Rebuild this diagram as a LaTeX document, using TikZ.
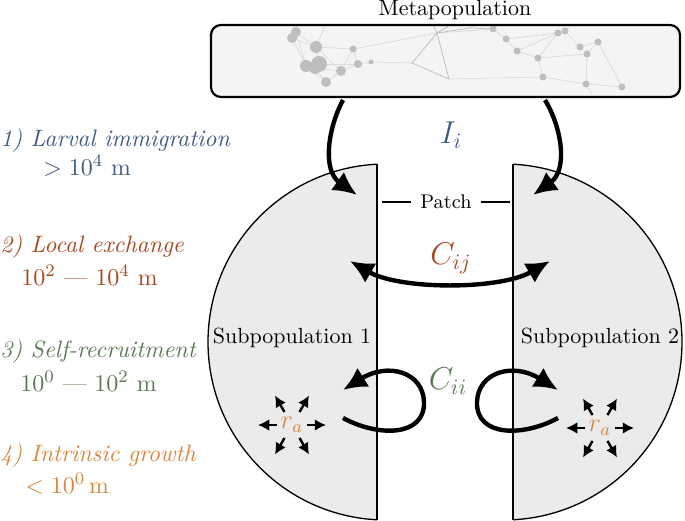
\documentclass[tikz,border=0pt]{standalone}
\usepackage{amsmath}
\usetikzlibrary{arrows.meta}

\definecolor{immblue}{HTML}{3E5B85}
\definecolor{exchrust}{HTML}{A8471C}
\definecolor{selfgreen}{HTML}{5A7852}
\definecolor{groworange}{HTML}{D9873A}
\definecolor{diskgray}{HTML}{EBEBEB}
\definecolor{boxgray}{HTML}{F4F4F4}
\definecolor{dotgray}{HTML}{BEBEBE}

\tikzset{
  bigarrow/.style={line width=2pt, -{Latex[length=0.38cm,width=0.36cm]}},
  smallarrow/.style={line width=1.1pt, -{Latex[length=1.8mm,width=1.9mm]}},
  disk/.style={draw, fill=diskgray, line width=0.6pt},
  netedge/.style={gray!30, line width=0.3pt},
  netnode/.style={fill=dotgray},
  scalelabel/.style={anchor=west, inner sep=0pt, font=\fontsize{10.8}{13}\selectfont},
}

\begin{document}
\begin{tikzpicture}[x=0.016cm, y=-0.016cm]
          \useasboundingbox (0,0) rectangle (685,521);

          % subpopulations
          \begin{scope}
            \clip (150,100) rectangle (377,560);
            \draw[disk] (386,342) circle (178);
          \end{scope}
          \begin{scope}
            \clip (513,100) rectangle (720,560);
            \draw[disk] (504,342) circle (178);
          \end{scope}
          \draw[line width=0.6pt] (377,164.2) -- (377,519.8);
          \draw[line width=0.6pt] (513,164.2) -- (513,519.8);

          % metapopulation box
          \node (meta) at (455,10) {Metapopulation};
          \fill[boxgray, rounded corners=0.16cm] (211,25) rectangle (680,97);
          \begin{scope}
            \clip[rounded corners=0.16cm] (211,25) rectangle (680,97);
            \foreach \n/\x/\y in {la/296/32, lb/292/38, lc/316/47, ld/353/49, le/306/66,
                lf/319/64, lg/315/68, lh/341/71, li/358/64, lj/371/62, lk/326/82,
                ha/437/33, hb/412/63, hc/449/79, hd/430/18, he/465/16, hf/470/28,
                ra/493/29, rb/506/39, rc/517/51, rd/538/58, re/543/77, rf/558/33,
                rg/565/31, rh/580/47, ri/598/42, rj/587/54, rk/586/84, rl/622/87,
                oa/330/15, ob/290/18, oc/600/110, od/480/12}
              \coordinate (m\n) at (\x,\y);
            \foreach \u/\v in {la/lc, lb/lc, lb/le, la/le, lc/lf, lc/ld, lc/lh, le/lf,
                lf/lg, lg/lh, lh/li, li/lj, ld/li, le/lk, lg/lk, lh/lk, ld/lh, lf/li,
                lj/hb, ra/rb, rb/rc, rc/rd, rd/re, rd/rf, rf/rg, rg/rh, rh/ri, rh/rj,
                rj/ri, rj/rk, re/rk, rk/rl, rd/rj, rc/rf, rb/rf, lc/oa, la/ob, rk/oc,
                rl/ri, hc/re, ld/ha, ha/ra}
              \draw[netedge] (m\u) -- (m\v);
            \foreach \u/\v in {hb/ha, ha/hc, hb/hc, ha/hd, ha/he, ha/hf, hf/ra}
              \draw[gray!55, line width=0.3pt] (m\u) -- (m\v);
            \foreach \n/\r in {la/5, lb/5, lc/6, ld/3.5, le/6, lf/8, lg/6, lh/5, li/4,
                lj/2.5, lk/5, ra/3.5, rb/3.5, rc/3.5, rd/3.5, re/3.5, rf/3.5, rg/3.5,
                rh/3.5, ri/3.5, rj/3.5, rk/3.5, rl/3.5}
              \fill[netnode] (m\n) circle (\r);
          \end{scope}
          \draw[line width=1pt, rounded corners=0.16cm] (211,25) rectangle (680,97);

          % larval immigration
          \coordinate (inL) at (343,100);
          \coordinate (inLtip) at (357,195);
          \coordinate (inR) at (545,100);
          \coordinate (inRtip) at (533,195);
          \draw[bigarrow] (inL) .. controls (328,128) and (322,170) .. (inLtip);
          \draw[bigarrow] (inR) .. controls (562,128) and (568,170) .. (inRtip);
          \node[text=immblue, font=\Large] (Ii) at (451,135) {$I_i$};

          % patch
          \node[font=\small, inner xsep=0.14cm] (patch) at (446,202) {Patch};
          \coordinate (patchL) at (382,202);
          \coordinate (patchR) at (510,202);
          \draw[line width=0.8pt] (patchL) -- (patch);
          \draw[line width=0.8pt] (patch) -- (patchR);

          % local exchange
          \coordinate (exL) at (350,261);
          \coordinate (exR) at (550,261);
          \draw[bigarrow, {Latex[length=0.38cm,width=0.36cm]}-{Latex[length=0.38cm,width=0.36cm]}]
            (exL) .. controls (400,290) and (500,290) .. (exR);
          \node[text=exchrust, font=\Large] (Cij) at (451,258) {$C_{ij}$};

          % subpopulation labels
          \node (sub1) at (292,338) {Subpopulation 1};
          \node (sub2) at (600,338) {Subpopulation 2};

          % self-recruitment
          \coordinate (slfL) at (343,418);
          \coordinate (slfLtip) at (343,390);
          \coordinate (slfR) at (558,418);
          \coordinate (slfRtip) at (558,390);
          \draw[bigarrow] (slfL) .. controls (378,437) and (425,437) .. (424,402)
            .. controls (423,372) and (388,362) .. (slfLtip);
          \draw[bigarrow] (slfR) .. controls (523,437) and (476,437) .. (477,402)
            .. controls (478,372) and (513,362) .. (slfRtip);
          \node[text=selfgreen, font=\Large] (Cii) at (448,381) {$C_{ii}$};

          % intrinsic growth
          \node[text=groworange, font=\large] (ra1) at (292,425) {$r_a$};
          \node[text=groworange, font=\large] (ra2) at (600,428) {$r_a$};
          \foreach \a in {0,60,...,300} {
            \draw[smallarrow] ([shift={(\a:15)}]ra1.center) -- ([shift={(\a:34)}]ra1.center);
            \draw[smallarrow] ([shift={(\a:15)}]ra2.center) -- ([shift={(\a:34)}]ra2.center);
          }

          % scales
          \node[scalelabel, text=immblue] (lab1) at (0,141) {\textit{1) Larval immigration}};
          \node[scalelabel, text=immblue] (rng1) at (43,166) {$>10^4$ m};
          \node[scalelabel, text=exchrust] (lab2) at (0,247) {\textit{2) Local exchange}};
          \node[scalelabel, text=exchrust] (rng2) at (21,275) {$10^2$ --- $10^4$ m};
          \node[scalelabel, text=selfgreen] (lab3) at (0,352) {\textit{3) Self-recruitment}};
          \node[scalelabel, text=selfgreen] (rng3) at (20,381) {$10^0$ --- $10^2$ m};
          \node[scalelabel, text=groworange] (lab4) at (0,456) {\textit{4) Intrinsic growth}};
          \node[scalelabel, text=groworange] (rng4) at (25,484) {$<10^0$\,m};
\end{tikzpicture}
\end{document}
